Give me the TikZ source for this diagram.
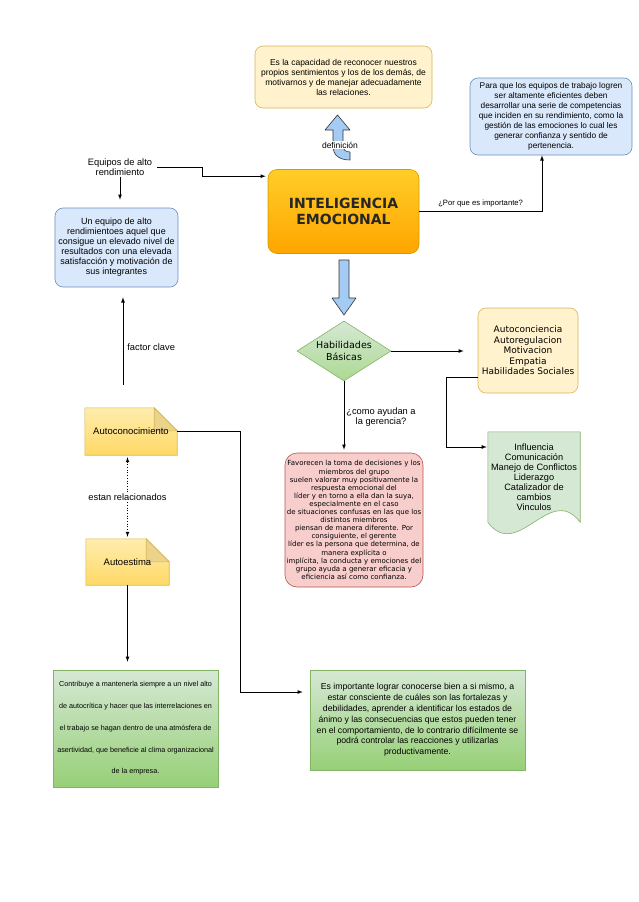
\documentclass[tikz,border=0pt]{standalone}
\usepackage{fontspec}
\setmainfont{Liberation Sans}
\newfontfamily\verdana{DejaVu Sans}
\usetikzlibrary{shapes.geometric, arrows, backgrounds}

\definecolor{defFill}{HTML}{FFF2CC}
\definecolor{defLine}{HTML}{D6B656}
\definecolor{blueFill}{HTML}{DAE8FC}
\definecolor{blueLine}{HTML}{6C8EBF}
\definecolor{orangeTop}{HTML}{FFCD28}
\definecolor{orangeBot}{HTML}{FFA500}
\definecolor{orangeLine}{HTML}{D79B00}
\definecolor{greenFill}{HTML}{D5E8D4}
\definecolor{greenDark}{HTML}{97D077}
\definecolor{greenLine}{HTML}{82B366}
\definecolor{pinkFill}{HTML}{F8CECC}
\definecolor{pinkLine}{HTML}{B85450}
\definecolor{arrowFill}{HTML}{A3CBF3}
\definecolor{noteTop}{HTML}{FFEDAE}
\definecolor{noteBot}{HTML}{FFD966}
\definecolor{noteFold}{HTML}{EBD38C}

\newcommand{\txtsize}[2]{\fontsize{#1}{#2}\selectfont}

\tikzset{
    conn/.style={draw, line width=0.8pt, -latex},
    dotconn/.style={draw, line width=0.7pt, dotted, latex-latex},
    lbl/.style={align=center, inner sep=1pt, font=\txtsize{9.3}{10.5}},
    roundbox/.style={rounded corners=8pt, line width=0.6pt, align=center, inner sep=1pt},
    yellowbox/.style={roundbox, draw=defLine, fill=defFill},
    bluebox/.style={roundbox, draw=blueLine, fill=blueFill},
    greenbox/.style={draw=greenLine, line width=0.6pt, top color=greenFill, bottom color=greenDark, align=center, inner sep=1pt},
    notebox/.style={align=center, inner sep=1pt, font=\txtsize{9.5}{11}},
    notefill/.style={draw=defLine, line width=0.6pt, top color=noteTop, bottom color=noteBot},
    blockarrow/.style={draw=black!80, line width=0.6pt, fill=arrowFill, line join=round}
}

\begin{document}
\begin{tikzpicture}[x=1pt, y=-1pt]
    \useasboundingbox (0,0) rectangle (638,902);

    % Central concept and the boxes around it
    \node[draw=orangeLine, line width=0.6pt, top color=orangeTop, bottom color=orangeBot, rounded corners=9pt,
          minimum width=151pt, minimum height=84pt, align=center, text=black!85, font=\verdana\bfseries\txtsize{14}{16.5}]
          (inteli) at (343.5,211.5) {INTELIGENCIA\\EMOCIONAL};
    \node[yellowbox, minimum width=177pt, minimum height=62pt, font=\txtsize{8.5}{10}] (defi) at (343.5,77)
        {Es la capacidad de reconocer nuestros\\propios sentimientos y los de los demás, de\\motivarnos y de manejar adecuadamente\\las relaciones.};
    \node[bluebox, minimum width=162pt, minimum height=77pt, font=\txtsize{8.3}{10}] (imp) at (551,116.5)
        {Para que los equipos de trabajo logren\\ser altamente eficientes deben\\desarrollar una serie de competencias\\que inciden en su rendimiento, como la\\gestión de las emociones lo cual les\\generar confianza y sentido de\\pertenencia.};

    % Left column
    \node[lbl] (equipos) at (120,167) {Equipos de alto\\rendimiento};
    \node[bluebox, minimum width=123pt, minimum height=79pt, font=\txtsize{9}{10}] (teamdef) at (116.5,247.5)
        {Un equipo de alto\\rendimientoes aquel que\\consigue un elevado nivel de\\resultados con una elevada\\satisfacción y motivación de\\sus integrantes};
    \node[notebox, minimum width=92pt, minimum height=47pt] (autocon) at (131,431.5) {Autoconocimiento};
    \node[notebox, minimum width=83pt, minimum height=46pt] (autoest) at (127.5,562) {Autoestima};
    \node[greenbox, minimum width=165pt, minimum height=117pt, font=\txtsize{7.2}{21.7}] (selfbox) at (135.5,728.5)
        {Contribuye a mantenerla siempre a un nivel alto\\de autocrítica y hacer que las interrelaciones en\\el trabajo se hagan dentro de una atmósfera de\\asertividad, que beneficie al clima organizacional\\de la empresa.};
    \node[greenbox, minimum width=215pt, minimum height=100pt, font=\txtsize{8.7}{10.8}] (knowbox) at (417.5,720)
        {Es importante lograr conocerse bien a si mismo, a\\estar consciente de cuáles son las fortalezas y\\debilidades, aprender a identificar los estados de\\ánimo y las consecuencias que estos pueden tener\\en el comportamiento, de lo contrario difícilmente se\\podrá controlar las reacciones y utilizarlas\\productivamente.};

    % Right column
    \node[diamond, draw=greenLine, line width=0.6pt, top color=greenFill, bottom color=greenDark!80,
          aspect=1.6, inner sep=0pt, minimum width=94pt, minimum height=60pt, align=center,
          font=\verdana\txtsize{9.5}{12}] (habil) at (344,351) {Habilidades\\Básicas};
    \node[yellowbox, minimum width=100pt, minimum height=85pt, font=\verdana\txtsize{9}{10.5}] (comps) at (528,350.5)
        {Autoconciencia\\Autoregulacion\\Motivacion\\Empatia\\Habilidades Sociales};
    \node[roundbox, draw=pinkLine, fill=pinkFill, rounded corners=12pt, minimum width=138pt, minimum height=134pt,
          font=\verdana\txtsize{7}{8.1}] (liderbox) at (354,520)
        {Favorecen la toma de decisiones y los\\miembros del grupo\\suelen valorar muy positivamente la\\respuesta emocional del\\líder y en torno a ella dan la suya,\\especialmente en el caso\\de situaciones confusas en las que los\\distintos miembros\\piensan de manera diferente. Por\\consiguiente, el gerente\\líder es la persona que determina, de\\manera explícita o\\implícita, la conducta y emociones del\\grupo ayuda a generar eficacia y\\eficiencia así como confianza.};
    \node[align=center, inner sep=1pt, minimum width=92pt, minimum height=90pt, font=\txtsize{9.2}{10}] (influ) at (534,477)
        {Influencia\\Comunicación\\Manejo de Conflictos\\Liderazgo\\Catalizador de\\cambios\\Vinculos};

    % Note and document outlines behind their texts
    \begin{scope}[on background layer]
        \foreach \n in {autocon, autoest} {
            \draw[notefill] (\n.north west) -- ([xshift=-23pt]\n.north east) -- ([yshift=-23pt]\n.north east)
                -- (\n.south east) -- (\n.south west) -- cycle;
            \draw[draw=defLine, line width=0.6pt, fill=noteFold] ([xshift=-23pt]\n.north east)
                -- ([xshift=-23pt, yshift=-23pt]\n.north east) -- ([yshift=-23pt]\n.north east) -- cycle;
        }
        \draw[draw=greenLine, line width=0.6pt, fill=greenFill] (influ.north west) -- (influ.north east) -- (influ.south east)
            .. controls ([xshift=-30pt, yshift=40pt]influ.south east) and ([xshift=30pt, yshift=-40pt]influ.south west) .. (influ.south west) -- cycle;
    \end{scope}

    % Block arrows
    \draw[blockarrow] (333,130) -- (325,130) -- (337.5,115) -- (350,130) -- (343,130) -- (343,146)
        .. controls (343,150) and (346,152) .. (350,152) -- (350,160) .. controls (339,160) and (333,155) .. (333,146) -- cycle;
    \node[font=\txtsize{8.5}{10}, fill=white, inner sep=1pt] (deflbl) at (340,145) {definición};
    \draw[blockarrow] (339,260) -- (349,260) -- (349,298) -- (356,298) -- (344,315) -- (332,298) -- (339,298) -- cycle;

    % Connectors
    \draw[conn, shorten <=4pt, shorten >=2pt] (equipos.east) -- ++(49,0) |- ([yshift=-7pt]inteli.north west);
    \draw[conn, shorten >=8pt] (equipos.south) -- (equipos.south |- teamdef.north);
    \draw[conn] (inteli.east) -| node (implbl) [pos=0.25, above=3pt, font=\txtsize{7.7}{9}, inner sep=1pt] {¿Por que es importante?}
        ([xshift=-9pt]imp.south);
    \draw[conn, shorten <=23pt, shorten >=10pt] ([xshift=-8pt]autocon.north) -- node (factorlbl) [midway, right=3pt, lbl] {factor clave}
        ([xshift=-8pt]autocon.north |- teamdef.south);
    \draw[dotconn, shorten <=2pt, shorten >=2pt] (autocon.south -| autoest.north) -- node (rellbl) [midway, lbl, fill=white] {estan relacionados}
        (autoest.north);
    \draw[conn, shorten >=8pt] (autoest.south) -- (autoest.south |- selfbox.north);
    \draw[conn, shorten >=7pt] (autocon.east) -- ++(63,0) |- ([yshift=28pt]knowbox.west);
    \draw[conn, shorten >=14pt] (habil.east) -- (habil.east -| comps.west);
    \draw[conn, shorten >=3pt] (habil.south) -- node (gerlbl) [midway, right=1pt, lbl] {¿como ayudan a\\la gerencia?}
        (habil.south |- liderbox.north);
    \draw[conn, shorten >=1pt] ([yshift=-26.5pt]comps.west) -- ++(-31,0) |- ([yshift=30pt]influ.west);
\end{tikzpicture}
\end{document}
